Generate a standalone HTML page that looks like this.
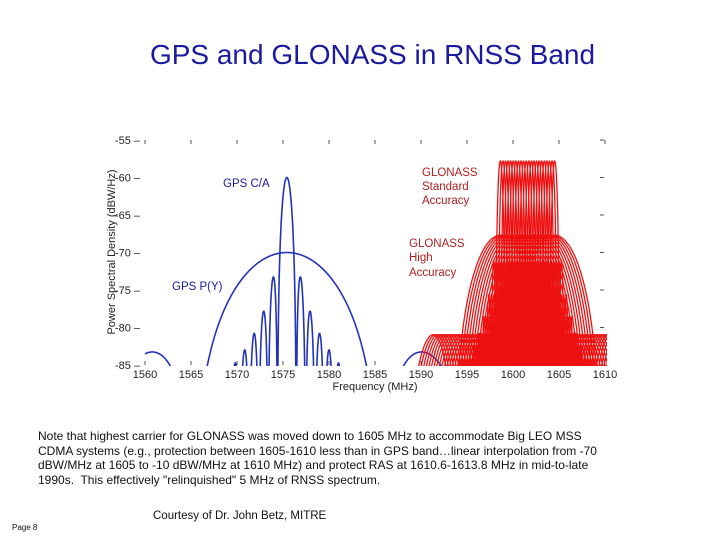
<!DOCTYPE html>
<html><head><meta charset="utf-8"><style>
body{margin:0;width:720px;height:540px;background:#fff;overflow:hidden;position:relative;font-family:"Liberation Sans",sans-serif}
.t{position:absolute;white-space:nowrap}
</style></head><body>
<div class="t" style="left:0;width:745px;text-align:center;top:39px;font-size:28px;color:#1a1aa0">GPS and GLONASS in RNSS Band</div>
<svg width="720" height="540" style="position:absolute;left:0;top:0">
<defs><clipPath id="pc"><rect x="145" y="138" width="462" height="228"/></clipPath></defs>
<g id="axes" font-size="11" fill="#222"></g>
<g id="marks" clip-path="url(#pc)"></g>
<text x="115" y="252" transform="rotate(-90 115 252)" text-anchor="middle" font-size="11" fill="#222">Power Spectral Density (dBW/Hz)</text>
<text x="375" y="390" text-anchor="middle" font-size="11" fill="#222">Frequency (MHz)</text>
<text x="223" y="187" font-size="11.5" fill="#1a1aa0">GPS C/A</text>
<text x="172" y="290" font-size="11.5" fill="#1a1aa0">GPS P(Y)</text>
<text font-size="11.5" fill="#b02020"><tspan x="422" y="176">GLONASS</tspan><tspan x="422" y="190">Standard</tspan><tspan x="422" y="204">Accuracy</tspan></text>
<text font-size="11.5" fill="#b02020"><tspan x="409" y="247">GLONASS</tspan><tspan x="409" y="261">High</tspan><tspan x="409" y="276">Accuracy</tspan></text>
</svg>
<div class="t" style="left:38px;top:429px;font-size:12px;line-height:14.5px;color:#111">Note that highest carrier for GLONASS was moved down to 1605 MHz to accommodate Big LEO MSS<br>CDMA systems (e.g., protection between 1605-1610 less than in GPS band…linear interpolation from -70<br>dBW/MHz at 1605 to -10 dBW/MHz at 1610 MHz) and protect RAS at 1610.6-1613.8 MHz in mid-to-late<br>1990s.&nbsp; This effectively "relinquished" 5 MHz of RNSS spectrum.</div>
<div class="t" style="left:153px;top:510px;font-size:11.5px;color:#111">Courtesy of Dr. John Betz, MITRE</div>
<div class="t" style="left:12px;top:523px;font-size:8px;color:#111">Page 8</div>
<script>
const xTicks=[1560,1565,1570,1575,1580,1585,1590,1595,1600,1605,1610];
const yTicks=[-55,-60,-65,-70,-75,-80,-85];
const gpsCenter=[1575.42];
const gpsCaPeak=[-60];const gpsCaChip=[1.023];
const gpsPyPeak=[-70];const gpsPyChip=[10.23];
const glonassChannels=[1598.625,1598.90625,1599.1875,1599.46875,1599.75,1600.03125,1600.3125,1600.59375,1600.875,1601.15625,1601.4375,1601.71875,1602.0,1602.28125,1602.5625,1602.84375,1603.125,1603.40625,1603.6875,1603.96875,1604.25,1604.53125];
const glonassSaPeak=[-57.8];const glonassSaChip=[0.511];
const glonassHaPeak=[-67.7];const glonassHaChip=[5.11];
const xs=f=>145+(f-1560)*9.2;
const ys=d=>140+(-55-d)*7.5;
const NS="http://www.w3.org/2000/svg";
const axes=document.getElementById('axes'),marks=document.getElementById('marks');
function mk(t,a,p){const e=document.createElementNS(NS,t);for(const k in a)e.setAttribute(k,a[k]);p.appendChild(e);return e;}
xTicks.forEach(v=>{
 const t=mk('text',{x:xs(v),y:378,'text-anchor':'middle'},axes);t.textContent=v;
 
 
 mk('line',{x1:xs(v),x2:xs(v),y1:140,y2:144,stroke:'#555'},axes);
 mk('line',{x1:xs(v),x2:xs(v),y1:361,y2:365,stroke:'#555'},axes);
});
yTicks.forEach(v=>{
 const t=mk('text',{x:140,y:ys(v)+4,'text-anchor':'end'},axes);t.textContent=v+' –';
 
 
 mk('line',{x1:600,x2:604,y1:ys(v),y2:ys(v),stroke:'#555'},axes);
});
function sincDb(f,c,peak,chip){const u=Math.PI*(f-c)/chip;let s=Math.abs(u)<1e-9?1:Math.sin(u)/u;let d=peak+10*Math.log10(Math.max(s*s,1e-12));return Math.max(d,-86);}
function curve(c,peak,chip,color,w,name){
 let d='';for(let f=1559;f<=1611;f+=0.01){d+=(d?'L':'M')+xs(f).toFixed(2)+','+ys(sincDb(f,c,peak,chip)).toFixed(2);}
 const p=mk('path',{d:d,fill:'none',stroke:color,'stroke-width':w},marks);
 
 
}
curve(gpsCenter[0],gpsPyPeak[0],gpsPyChip[0],'#2233bb',1.6,'gps-py-curve');
curve(gpsCenter[0],gpsCaPeak[0],gpsCaChip[0],'#2233bb',1.6,'gps-ca-curve');
glonassChannels.forEach(c=>curve(c,glonassHaPeak[0],glonassHaChip[0],'#ee1111',1.3,'glonass-ha-curve'));
glonassChannels.forEach(c=>curve(c,glonassSaPeak[0],glonassSaChip[0],'#ee1111',1.3,'glonass-sa-curve'));
</script>
</body></html>
